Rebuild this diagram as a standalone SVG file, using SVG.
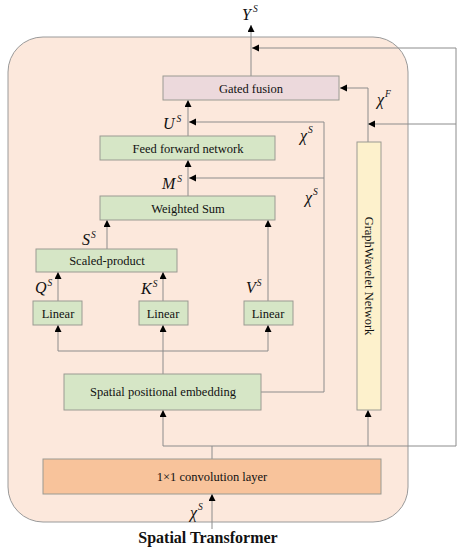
<svg xmlns="http://www.w3.org/2000/svg" width="463" height="550" viewBox="0 0 463 550">
<defs>
<marker id="ah" markerUnits="userSpaceOnUse" markerWidth="8" markerHeight="8" refX="7" refY="3.5" orient="auto">
<path d="M0,0 L7,3.5 L0,7 Z" fill="#000"/>
</marker>
<style>
.box{stroke:#9a9a92;stroke-width:1}
.g{fill:#d6e6c6}
.lbl{font-family:"Liberation Serif","Times New Roman",serif;font-size:12.5px;fill:#111;text-anchor:middle}
.m{font-family:"Liberation Serif","Times New Roman",serif;font-style:italic;font-size:16px;fill:#111}
.sup{font-size:9.5px}
.c{fill:none;stroke:#8c8c8c;stroke-width:1}
.a{marker-end:url(#ah)}
</style>
</defs>
<rect width="463" height="550" fill="#fff"/>
<rect id="frame" x="8" y="37" width="400" height="485" rx="35" ry="35" fill="#fce8dc" stroke="#9a9a9a" stroke-width="1"/>

<g id="connectors">
<line class="c a" x1="251" y1="76" x2="251" y2="25"/>
<polyline class="c a" points="456,446 456,48 252,48"/>
<polyline class="c a" points="456,124 368,124"/>
<polyline class="c a" points="368,142 368,88 340,88"/>
<line class="c a" x1="188" y1="136" x2="188" y2="100"/>
<polyline class="c a" points="261,392 324,392 324,122 189,122"/>
<polyline class="c a" points="324,178 189,178"/>
<line class="c a" x1="188" y1="196" x2="188" y2="160"/>
<line class="c a" x1="107" y1="249" x2="107" y2="220"/>
<line class="c a" x1="268" y1="301" x2="268" y2="220"/>
<line class="c a" x1="58" y1="301" x2="58" y2="272"/>
<line class="c a" x1="163" y1="301" x2="163" y2="272"/>
<line class="c a" x1="163" y1="374" x2="163" y2="325"/>
<line class="c" x1="58" y1="351" x2="268" y2="351"/>
<line class="c a" x1="58" y1="351" x2="58" y2="325"/>
<line class="c a" x1="268" y1="351" x2="268" y2="325"/>
<line class="c" x1="212" y1="459" x2="212" y2="446"/>
<line class="c" x1="163" y1="446" x2="456" y2="446"/>
<line class="c a" x1="163" y1="446" x2="163" y2="410"/>
<line class="c a" x1="368" y1="446" x2="368" y2="410"/>
<line class="c a" x1="212" y1="529" x2="212" y2="494"/>
</g>

<g id="gated-fusion">
<rect class="box" x="163" y="76" width="176" height="24" fill="#ecd9dc"/>
<text class="lbl" x="251" y="92.5">Gated fusion</text>
</g>
<g id="ffn">
<rect class="box g" x="100" y="136" width="175" height="24"/>
<text class="lbl" x="188" y="152.5">Feed forward network</text>
</g>
<g id="weighted-sum">
<rect class="box g" x="100" y="196" width="175" height="24"/>
<text class="lbl" x="188" y="212.5">Weighted Sum</text>
</g>
<g id="scaled-product">
<rect class="box g" x="36" y="249" width="141" height="23"/>
<text class="lbl" x="107" y="265">Scaled-product</text>
</g>
<g id="linear-q">
<rect class="box g" x="33" y="301" width="49" height="24"/>
<text class="lbl" x="58" y="317.5">Linear</text>
</g>
<g id="linear-k">
<rect class="box g" x="139" y="301" width="49" height="24"/>
<text class="lbl" x="163" y="317.5">Linear</text>
</g>
<g id="linear-v">
<rect class="box g" x="244" y="301" width="49" height="24"/>
<text class="lbl" x="268" y="317.5">Linear</text>
</g>
<g id="spe">
<rect class="box g" x="64" y="374" width="197" height="36"/>
<text class="lbl" x="163" y="396">Spatial positional embedding</text>
</g>
<g id="gwn">
<rect class="box" x="357" y="142" width="24" height="268" fill="#fdf1cc"/>
<text class="lbl" transform="translate(369,276) rotate(90)" x="0" y="4">GraphWavelet Network</text>
</g>
<g id="conv">
<rect class="box" x="43" y="459" width="338" height="35" fill="#f8c39b"/>
<text class="lbl" x="212" y="481">1×1 convolution layer</text>
</g>

<g id="labels">
<text class="m" x="242" y="20" font-size="17">Y<tspan class="sup" dx="2" dy="-8">S</tspan></text>
<text class="m" x="163" y="129">U<tspan class="sup" dx="2" dy="-7">S</tspan></text>
<text class="m" x="162" y="189">M<tspan class="sup" dx="2" dy="-7">S</tspan></text>
<text class="m" x="82" y="245">S<tspan class="sup" dx="1" dy="-7">S</tspan></text>
<text class="m" x="35" y="293">Q<tspan class="sup" dx="1" dy="-7">S</tspan></text>
<text class="m" x="141" y="294">K<tspan class="sup" dx="1" dy="-7">S</tspan></text>
<text class="m" x="246" y="293">V<tspan class="sup" dx="1" dy="-7">S</tspan></text>
<text class="m" x="300" y="141">χ<tspan class="sup" dx="1" dy="-8">S</tspan></text>
<text class="m" x="305" y="203">χ<tspan class="sup" dx="1" dy="-8">S</tspan></text>
<text class="m" x="377" y="105">χ<tspan class="sup" dx="1" dy="-8">F</tspan></text>
<text class="m" x="190" y="518">χ<tspan class="sup" dx="1" dy="-8">S</tspan></text>
<text x="208" y="543" font-family="Liberation Serif,'Times New Roman',serif" font-weight="bold" font-size="16" text-anchor="middle" fill="#111">Spatial Transformer</text>
</g>
</svg>
